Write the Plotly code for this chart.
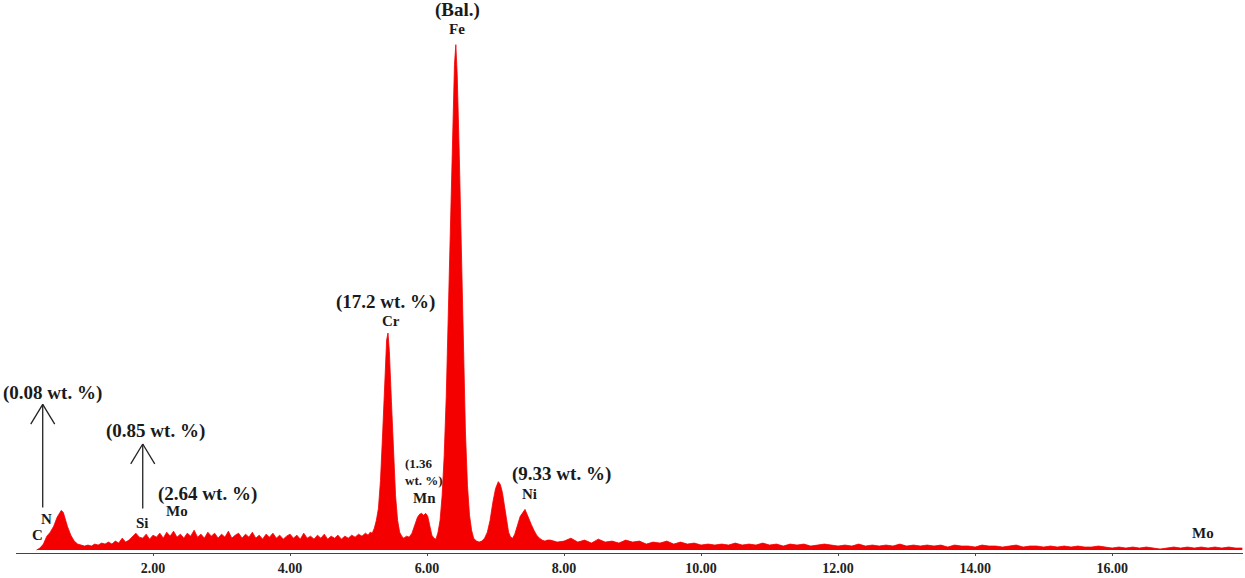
"""
EDS spectrum of the steel sample with element labels and wt.% values.
Counts are read off the figure (arbitrary units, roughly 1 unit per pixel).
"""
import plotly.graph_objects as go

# ── Data (energy in keV, intensity in arbitrary counts) ─────────────────────

# C / N region and low-energy background
LOW_E = [0.30, 0.35, 0.40, 0.45, 0.50, 0.55, 0.60, 0.63, 0.66, 0.69, 0.72, 0.75,
         0.80, 0.85, 0.90, 0.95, 1.00, 1.05, 1.10, 1.15, 1.20, 1.25, 1.30, 1.35,
         1.40, 1.45, 1.50, 1.55, 1.60, 1.65, 1.70, 1.75, 1.80]
LOW_C = [0, 2, 6, 14, 18, 24, 33, 37, 40, 38, 30, 24,
         15, 9, 6, 5, 4, 5, 4, 6, 5, 7, 6, 8,
         6, 9, 7, 12, 8, 10, 14, 17, 13]

# Si / Mo background up to the Cr peak
MID_E = [1.85, 1.90, 1.95, 2.00, 2.05, 2.10, 2.15, 2.20, 2.25, 2.30, 2.35, 2.40,
         2.45, 2.50, 2.55, 2.60, 2.65, 2.70, 2.75, 2.80, 2.85, 2.90, 2.95, 3.00,
         3.05, 3.10, 3.15, 3.20, 3.25, 3.30, 3.35, 3.40, 3.45, 3.50, 3.55, 3.60,
         3.65, 3.70, 3.75, 3.80, 3.85, 3.90, 3.95, 4.00, 4.05, 4.10, 4.15, 4.20,
         4.25, 4.30, 4.35, 4.40, 4.45, 4.50, 4.55, 4.60, 4.65, 4.70, 4.75, 4.80,
         4.85, 4.90, 4.95, 5.00, 5.05, 5.10]
MID_C = [12, 16, 11, 15, 13, 17, 12, 18, 14, 19, 13, 16,
         12, 17, 14, 20, 13, 16, 12, 18, 14, 17, 12, 16,
         13, 19, 12, 15, 17, 12, 16, 13, 18, 12, 15, 11,
         16, 13, 17, 12, 15, 11, 14, 16, 12, 15, 11, 17,
         12, 14, 11, 15, 12, 16, 11, 14, 12, 15, 11, 14,
         12, 15, 13, 16, 14, 17]

# Cr, Mn, Fe, Fe-Kb and Ni peaks
PEAK_E = [5.14, 5.17, 5.20, 5.23, 5.26, 5.29, 5.32, 5.35, 5.38, 5.41, 5.43, 5.45,
          5.48, 5.51, 5.54, 5.57, 5.60, 5.63, 5.66, 5.70, 5.74,
          5.78, 5.82, 5.86, 5.89, 5.92, 5.95, 5.98, 6.01, 6.04, 6.07, 6.10, 6.13,
          6.16, 6.19, 6.22, 6.25, 6.28, 6.31, 6.34, 6.37, 6.40, 6.42, 6.44, 6.47,
          6.50, 6.53, 6.56, 6.59, 6.62, 6.65, 6.68, 6.72, 6.76, 6.80, 6.84,
          6.88, 6.92, 6.96, 7.00, 7.04, 7.07, 7.10, 7.13, 7.16, 7.19, 7.22, 7.25,
          7.28, 7.32, 7.36, 7.40, 7.43, 7.46, 7.49, 7.52, 7.56, 7.60, 7.64, 7.68,
          7.72, 7.76]
PEAK_C = [15, 18, 17, 22, 30, 42, 70, 115, 170, 212, 219, 200,
          150, 95, 55, 30, 18, 14, 12, 14, 13,
          17, 26, 33, 36, 37, 35, 37, 34, 24, 15, 12, 11,
          18, 30, 55, 95, 155, 235, 330, 420, 490, 510, 480, 400,
          300, 200, 120, 65, 35, 20, 12, 9, 8, 9, 12,
          18, 30, 48, 62, 69, 66, 58, 45, 30, 18, 13, 12,
          16, 25, 34, 38, 41, 36, 30, 26, 20, 15, 12, 10,
          9, 10]

# high-energy tail
HIGH_E = [7.8, 7.9, 8.0, 8.1, 8.2, 8.3, 8.4, 8.5, 8.6, 8.7, 8.8, 8.9,
          9.0, 9.1, 9.2, 9.3, 9.4, 9.5, 9.6, 9.7, 9.8, 9.9, 10.0, 10.1,
          10.2, 10.3, 10.4, 10.5, 10.6, 10.7, 10.8, 10.9, 11.0, 11.1, 11.2, 11.3,
          11.4, 11.5, 11.6, 11.7, 11.8, 11.9, 12.0, 12.1, 12.2, 12.3, 12.4, 12.5,
          12.6, 12.7, 12.8, 12.9, 13.0, 13.1, 13.2, 13.3, 13.4, 13.5, 13.6, 13.7,
          13.8, 13.9, 14.0, 14.1, 14.2, 14.3, 14.4, 14.5, 14.6, 14.7, 14.8, 14.9,
          15.0, 15.1, 15.2, 15.3, 15.4, 15.5, 15.6, 15.7, 15.8, 15.9, 16.0, 16.1,
          16.2, 16.3, 16.4, 16.5, 16.6, 16.7, 16.8, 16.9, 17.0, 17.1, 17.2, 17.3,
          17.4, 17.5, 17.6, 17.7, 17.8, 17.9]
HIGH_C = [10, 8, 9, 12, 8, 10, 7, 11, 8, 9, 7, 10,
          8, 9, 6, 8, 7, 9, 6, 8, 6, 7, 5, 6,
          5, 6, 5, 7, 5, 6, 5, 7, 5, 6, 4, 6,
          5, 6, 4, 5, 6, 5, 4, 5, 4, 6, 4, 5,
          4, 5, 4, 6, 4, 5, 4, 5, 4, 5, 3, 5,
          4, 4, 3, 5, 4, 4, 3, 4, 5, 3, 4, 4,
          3, 4, 3, 4, 3, 4, 3, 3, 4, 3, 2, 3,
          2, 3, 2, 3, 2, 1, 2, 3, 2, 3, 2, 3,
          2, 3, 2, 3, 2, 2]

TICK_VALS = [2, 4, 6, 8, 10, 12, 14, 16]
TICK_TEXT = ["2.00", "4.00", "6.00", "8.00", "10.00", "12.00", "14.00", "16.00"]

# labels: (text, energy, height, font size)
LABELS = [
    ("(Bal.)",       6.44, 545, 19),
    ("Fe",           6.44, 526, 15),
    ("(17.2 wt. %)", 5.40, 250, 19),
    ("Cr",           5.47, 231, 15),
    ("(1.36",        5.88, 87, 13),
    ("wt. %)",       5.96, 70, 13),
    ("Mn",           5.96, 53, 15),
    ("(9.33 wt. %)", 7.96, 77, 19),
    ("Ni",           7.49, 57, 15),
    ("(0.08 wt. %)", 0.53, 158, 19),
    ("N",            0.44, 31, 15),
    ("C",            0.32, 15, 15),
    ("(0.85 wt. %)", 2.04, 120, 19),
    ("Si",           1.85, 27, 15),
    ("(2.64 wt. %)", 2.80, 57, 19),
    ("Mo",           2.35, 39, 15),
    ("Mo",           17.33, 17, 15),
]

# open arrows: (energy, base height, tip height)
ARROWS = [(0.39, 43, 147), (1.85, 42, 107)]

RED = "rgb(245,0,0)"
FONT = "Liberation Serif"

energy = LOW_E + MID_E + PEAK_E + HIGH_E
counts = LOW_C + MID_C + PEAK_C + HIGH_C

fig = go.Figure()
fig.add_trace(go.Scatter(
    x=energy, y=counts,
    mode="lines",
    fill="tozeroy",
    fillcolor=RED,
    line=dict(color=RED, width=0.8),
    hoverinfo="skip",
))

for text, x, y, size in LABELS:
    fig.add_annotation(
        x=x, y=y, text=f"<b>{text}</b>", showarrow=False,
        font=dict(family=FONT, size=size, color="#1a1a1a"),
        xanchor="center", yanchor="middle",
    )

for x, y0, y1 in ARROWS:
    arrow = dict(type="line", xref="x", yref="y",
                 line=dict(color="#222", width=1.3))
    fig.add_shape(**arrow, x0=x, x1=x, y0=y0, y1=y1)
    fig.add_shape(**arrow, x0=x - 0.175, x1=x, y0=y1 - 20, y1=y1)
    fig.add_shape(**arrow, x0=x + 0.175, x1=x, y0=y1 - 20, y1=y1)

fig.update_xaxes(
    range=[0, 17.91],
    tickvals=TICK_VALS, ticktext=[f"<b>{t}</b>" for t in TICK_TEXT],
    showline=True, linecolor="#444", linewidth=1,
    ticks="outside", ticklen=2, tickcolor="#444",
    tickfont=dict(family=FONT, size=14, color="#222"),
    showgrid=False, zeroline=False,
)
fig.update_yaxes(
    range=[-3, 551],
    visible=False, showgrid=False, zeroline=False,
)

fig.update_layout(
    width=1245, height=578,
    margin=dict(l=16, r=2, t=4, b=20),
    plot_bgcolor="white", paper_bgcolor="white",
    showlegend=False,
)

# the page body has a default 8px margin; drop it so the figure fills the window
fig.write_html("out.html", config={"displayModeBar": False},
               post_script="document.body.style.margin='0';")
